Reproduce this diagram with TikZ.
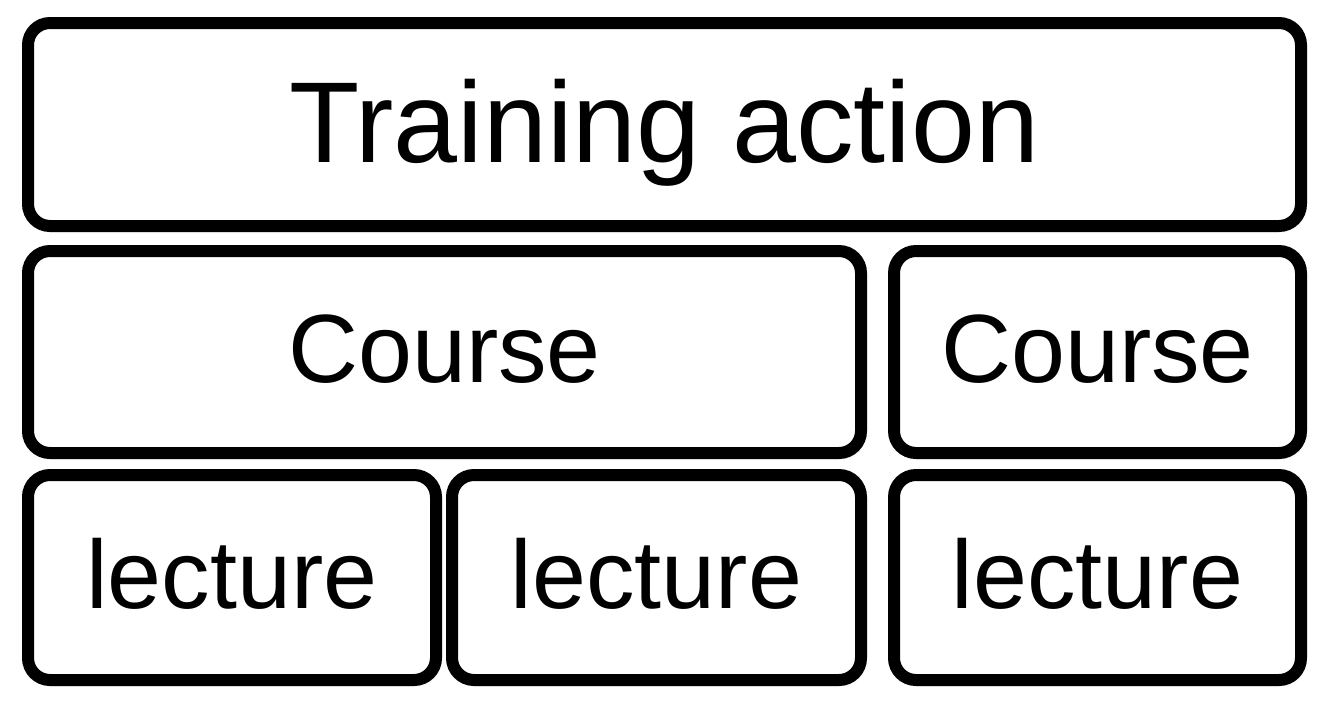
\documentclass[tikz,border=0pt]{standalone}
\usepackage{fontspec}
\setmainfont{Liberation Sans}
\usetikzlibrary{shadows.blur}
\begin{document}
\begin{tikzpicture}[x=1pt, y=-1pt,
    unitbox/.style={draw, fill=white, line width=12pt, rounded corners=22pt,
        inner sep=0pt, outer sep=0pt, anchor=north west,
        blur shadow={shadow xshift=2pt, shadow yshift=-3pt, shadow blur radius=4pt, shadow opacity=30}},
    toptext/.style={font=\fontsize{115}{115}\selectfont, text height=84pt, text depth=9pt},
    midtext/.style={font=\fontsize{97}{97}\selectfont, text height=70pt, text depth=10pt},
    lowtext/.style={font=\fontsize{97}{97}\selectfont, text height=70pt, text depth=9pt}]
    \useasboundingbox (0,0) rectangle (1326,710);

    % top row
    \node[unitbox, toptext, minimum width=1273pt, minimum height=203pt] (action) at (28,23) {Training action};

    % middle row: two courses
    \node[unitbox, midtext, minimum width=833pt, minimum height=202pt] (courseA) at (28,251) {Course};
    \node[unitbox, midtext, minimum width=407pt, minimum height=202pt] (courseB) at (894,251) {Course};

    % bottom row: lectures
    \node[unitbox, lowtext, minimum width=408pt, minimum height=205pt] (lectA) at (28,475) {lecture};
    \node[unitbox, lowtext, minimum width=409pt, minimum height=205pt] (lectB) at (452,475) {lecture};
    \node[unitbox, lowtext, minimum width=407pt, minimum height=205pt] (lectC) at (894,475) {lecture};
\end{tikzpicture}
\end{document}
